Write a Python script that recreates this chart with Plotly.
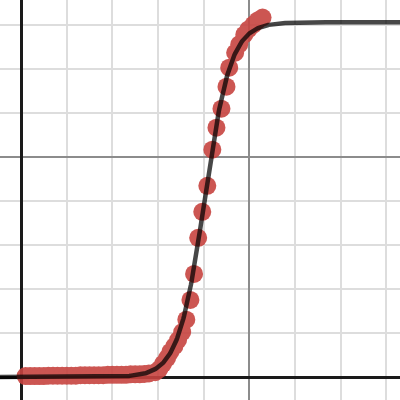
import numpy as np
import plotly.graph_objects as go

# puntos medidos (x, y)
x_flat = [0.1, 0.2, 0.3, 0.4, 0.5, 0.6, 0.7, 0.8, 0.9, 1.0, 1.1, 1.2, 1.3, 1.4,
          1.5, 1.6, 1.7, 1.8, 1.9, 2.0, 2.1, 2.2, 2.3, 2.4, 2.5, 2.6, 2.7, 2.8]
y_flat = [0.02, 0.02, 0.02, 0.02, 0.02, 0.03, 0.03, 0.03, 0.03, 0.03, 0.03, 0.03, 0.04, 0.04,
          0.04, 0.04, 0.04, 0.04, 0.05, 0.05, 0.05, 0.05, 0.05, 0.06, 0.06, 0.06, 0.07, 0.08]

x_rise = [2.94, 3.03, 3.11, 3.20, 3.27, 3.36, 3.44, 3.53, 3.62, 3.71, 3.79, 3.88, 3.97,
          4.08, 4.19, 4.28, 4.39, 4.50, 4.56, 4.69, 4.78, 4.89, 4.98, 5.09, 5.18, 5.29]
y_rise = [0.11, 0.18, 0.30, 0.43, 0.57, 0.70, 0.84, 1.02, 1.30, 1.75, 2.34, 3.16, 3.75,
          4.34, 5.16, 5.66, 6.09, 6.59, 7.02, 7.36, 7.55, 7.77, 7.89, 8.00, 8.09, 8.16]

# parametros de la curva logistica
L = 8.05
k = 3.5
x0 = 4.02

xs = x_flat + x_rise
ys = y_flat + y_rise

xc = np.linspace(-0.5, 8.4, 600)
yc = L / (1 + np.exp(-k * (xc - x0)))

fig = go.Figure()
fig.add_trace(go.Scatter(x=xs, y=ys, mode="markers",
                         marker=dict(size=18, color="#c74440"),
                         opacity=0.9, hoverinfo="skip"))
fig.add_trace(go.Scatter(x=xc, y=yc, mode="lines",
                         line=dict(color="rgba(0,0,0,0.72)", width=4.5),
                         hoverinfo="skip"))

eje = dict(showticklabels=False, ticks="", dtick=5, tick0=0,
           showgrid=True, gridcolor="#8c8c8c", gridwidth=2,
           zeroline=True, zerolinecolor="#1a1a1a", zerolinewidth=3,
           minor=dict(dtick=1, showgrid=True, gridcolor="#dddddd", gridwidth=1.5),
           showline=False, fixedrange=True)

fig.update_layout(
    width=400, height=400,
    margin=dict(l=0, r=0, t=0, b=0),
    plot_bgcolor="white", paper_bgcolor="white",
    showlegend=False,
    xaxis=dict(eje, range=[-0.46, 8.30]),
    yaxis=dict(eje, range=[-0.522, 8.557]),
)

# quitar el margen del body para que el grafico quede en (0, 0)
fig.write_html("out.html", config={"displayModeBar": False},
               post_script="document.body.style.margin='0';document.body.style.overflow='hidden';")
